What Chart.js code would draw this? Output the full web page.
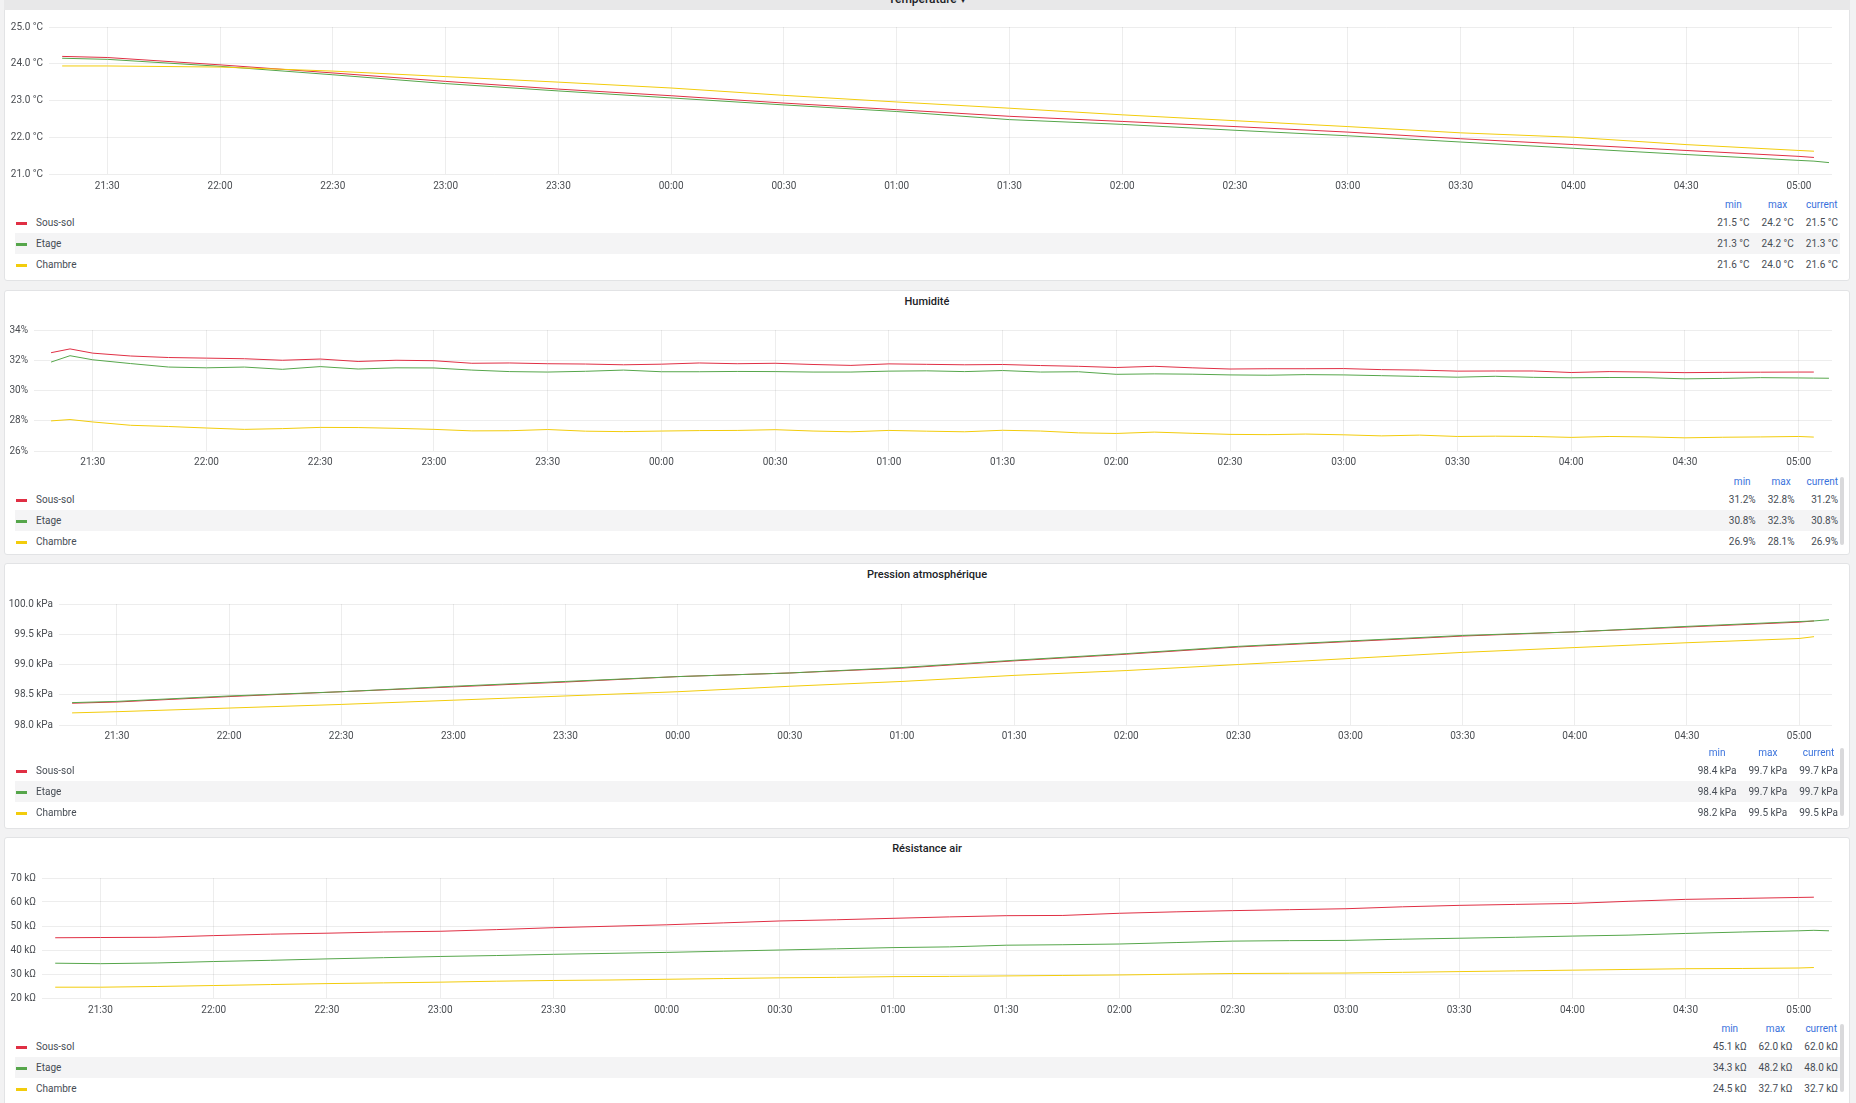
<!DOCTYPE html>
<html lang="fr">
<head>
<meta charset="utf-8">
<title>Capteurs</title>
<script src="https://cdn.jsdelivr.net/npm/chart.js@4.4.0/dist/chart.umd.min.js"></script>
<style>
    html, body { margin: 0; padding: 0; }
    body {
        width: 1856px; height: 1103px; overflow: hidden; position: relative;
        background: #f2f2f3; font-family: Roboto, "Noto Sans", sans-serif; color: #464c54;
    }
    .panel {
        position: absolute; left: 4px; width: 1846px; background: #fff;
        border: 1px solid #e2e3e5; border-radius: 3px; box-sizing: border-box;
    }
    .panel-head {
        position: absolute; left: 4px; width: 1846px; top: -20px; height: 30px;
        background: #e8e8e9; border-radius: 3px 3px 0 0;
    }
    .title {
        position: absolute; left: 4px; width: 1846px; text-align: center;
        font-size: 11px; line-height: 14px; font-weight: 500; color: #202226;
    }
    canvas { position: absolute; left: 0; }
    table.legend {
        position: absolute; left: 15px; width: 1825px; border-collapse: collapse;
        font-size: 10px; color: #464c54;
    }
    table.legend th {
        height: 16px; padding: 0 0 0 12px; text-align: center; font-weight: 400;
        color: #3871dc; white-space: nowrap;
    }
    table.legend td { height: 21px; padding: 0 0 0 12px; text-align: right; white-space: nowrap; }
    table.legend td.name { text-align: left; padding-left: 1px; width: 100%; }
    table.legend tr.alt td { background: #f4f4f5; }
    table.legend td:last-child, table.legend th:last-child { padding-right: 2px; }
    .swatch { display: inline-block; width: 11px; height: 3px; margin-right: 9px; vertical-align: middle; }
    .scroll { position: absolute; left: 1840px; width: 4px; background: #d9d9db; border-radius: 2px; }
</style>
</head>
<body>

<div class="panel" style="top:-20px;height:301px;"></div>
<div class="panel-head"></div>
<div class="title" style="top:-8px;font-size:12px;">Température ▾</div>
<canvas id="tempChart" width="1845" height="180" style="top:15px;"></canvas>
<table class="legend" id="tempLegend" style="top:196px;"></table>

<div class="panel" style="top:290px;height:265px;"></div>
<div class="title" style="top:295px;">Humidité</div>
<canvas id="humChart" width="1845" height="153" style="top:318px;"></canvas>
<table class="legend" id="humLegend" style="top:473px;"></table>
<div class="scroll" style="top:477px;height:68px;"></div>

<div class="panel" style="top:563px;height:266px;"></div>
<div class="title" style="top:568px;">Pression atmosphérique</div>
<canvas id="presChart" width="1845" height="153" style="top:592px;"></canvas>
<table class="legend" id="presLegend" style="top:744px;"></table>
<div class="scroll" style="top:748px;height:68px;"></div>

<div class="panel" style="top:837px;height:270px;"></div>
<div class="title" style="top:842px;">Résistance air</div>
<canvas id="resChart" width="1845" height="153" style="top:866px;"></canvas>
<table class="legend" id="resLegend" style="top:1020px;"></table>
<div class="scroll" style="top:1024px;height:68px;"></div>

<script>
// Time axis: minutes after 21:00
const X_MIN = 14.5;
const X_MAX = 488.8;
const timeTicks = [30, 60, 90, 120, 150, 180, 210, 240, 270, 300, 330, 360, 390, 420, 450, 480];
const timeLabels = ['21:30', '22:00', '22:30', '23:00', '23:30', '00:00', '00:30', '01:00',
                    '01:30', '02:00', '02:30', '03:00', '03:30', '04:00', '04:30', '05:00'];

const seriesNames = ['Sous-sol', 'Etage', 'Chambre'];
const seriesColors = ['#e02f44', '#56a64b', '#f2cc0c'];
const statHeaders = ['min', 'max', 'current'];

// Température
const tempTimes = [18, 30, 60, 90, 120, 150, 180, 210, 240, 270, 300, 330, 360, 390, 420, 450, 480, 484, 488];
const tempSousSol = [24.20, 24.17, 23.97, 23.75, 23.52, 23.31, 23.13, 22.93, 22.75, 22.57, 22.43, 22.29, 22.14, 21.96, 21.80, 21.64, 21.48, 21.45, null];
const tempEtage = [24.15, 24.12, 23.93, 23.70, 23.46, 23.26, 23.07, 22.88, 22.70, 22.48, 22.35, 22.19, 22.04, 21.87, 21.70, 21.53, 21.37, 21.35, 21.31];
const tempChambre = [23.94, 23.94, 23.91, 23.80, 23.65, 23.50, 23.34, 23.14, 22.96, 22.79, 22.61, 22.45, 22.29, 22.12, 22.00, 21.80, 21.64, 21.62, null];
const tempTicks = [21, 22, 23, 24, 25];
const tempStats = [['21.5 °C', '24.2 °C', '21.5 °C'], ['21.3 °C', '24.2 °C', '21.3 °C'], ['21.6 °C', '24.0 °C', '21.6 °C']];

// Humidité
const humTimes = [19, 24, 30, 40, 50, 60, 70, 80, 90, 100, 110, 120, 130, 140, 150, 160, 170, 180, 190, 200,
                  210, 220, 230, 240, 250, 260, 270, 280, 290, 300, 310, 320, 330, 340, 350, 360, 370, 380,
                  390, 400, 410, 420, 430, 440, 450, 460, 470, 480, 484, 488];
const humSousSol = [32.50, 32.75, 32.47, 32.28, 32.18, 32.14, 32.10, 32.00, 32.08, 31.92, 32.00, 31.97, 31.80, 31.82,
                    31.77, 31.75, 31.70, 31.74, 31.82, 31.77, 31.80, 31.72, 31.66, 31.76, 31.73, 31.70, 31.72, 31.65,
                    31.60, 31.52, 31.60, 31.50, 31.42, 31.44, 31.44, 31.45, 31.38, 31.35, 31.28, 31.29, 31.29, 31.19,
                    31.25, 31.22, 31.18, 31.20, 31.21, 31.22, 31.22, null];
const humEtage = [31.88, 32.30, 32.03, 31.78, 31.55, 31.50, 31.55, 31.40, 31.58, 31.42, 31.50, 31.49, 31.35, 31.25,
                  31.22, 31.27, 31.35, 31.24, 31.24, 31.26, 31.25, 31.22, 31.22, 31.28, 31.30, 31.25, 31.32, 31.22,
                  31.24, 31.07, 31.10, 31.08, 31.03, 31.01, 31.05, 31.03, 30.98, 30.93, 30.88, 30.94, 30.87, 30.84,
                  30.86, 30.85, 30.77, 30.80, 30.85, 30.83, 30.82, 30.81];
const humChambre = [27.99, 28.08, 27.92, 27.70, 27.62, 27.52, 27.43, 27.48, 27.56, 27.55, 27.50, 27.43, 27.33, 27.34,
                    27.42, 27.31, 27.28, 27.32, 27.35, 27.36, 27.41, 27.32, 27.27, 27.36, 27.31, 27.27, 27.37, 27.32,
                    27.20, 27.16, 27.25, 27.17, 27.10, 27.08, 27.12, 27.07, 27.00, 27.05, 26.96, 26.98, 26.96, 26.90,
                    26.96, 26.93, 26.87, 26.91, 26.93, 26.96, 26.92, null];
const humTicks = [26, 28, 30, 32, 34];
const humStats = [['31.2%', '32.8%', '31.2%'], ['30.8%', '32.3%', '30.8%'], ['26.9%', '28.1%', '26.9%']];

// Pression atmosphérique
const presTimes = [18, 30, 60, 90, 120, 150, 180, 210, 240, 270, 300, 330, 360, 390, 420, 450, 480, 484, 488];
const presSousSol = [98.36, 98.38, 98.47, 98.55, 98.63, 98.71, 98.80, 98.86, 98.94, 99.06, 99.17, 99.29, 99.38, 99.47, 99.54, 99.62, 99.70, 99.72, null];
const presEtage = [98.37, 98.39, 98.48, 98.55, 98.64, 98.72, 98.80, 98.86, 98.95, 99.07, 99.18, 99.30, 99.39, 99.48, 99.54, 99.63, 99.71, 99.72, 99.74];
const presChambre = [98.20, 98.22, 98.28, 98.34, 98.41, 98.48, 98.55, 98.64, 98.72, 98.82, 98.90, 99.00, 99.10, 99.20, 99.28, 99.36, 99.43, 99.46, null];
const presTicks = [98, 98.5, 99, 99.5, 100];
const presStats = [['98.4 kPa', '99.7 kPa', '99.7 kPa'], ['98.4 kPa', '99.7 kPa', '99.7 kPa'], ['98.2 kPa', '99.5 kPa', '99.5 kPa']];

// Résistance air
const resTimes = [18, 30, 45, 60, 75, 90, 105, 120, 135, 150, 165, 180, 195, 210, 225, 240, 255, 270,
                  285, 300, 315, 330, 345, 360, 375, 390, 405, 420, 435, 450, 465, 480, 484, 488];
const resSousSol = [45.1, 45.2, 45.3, 46.0, 46.6, 47.0, 47.5, 47.8, 48.5, 49.3, 49.9, 50.5, 51.3, 52.1, 52.6, 53.2, 53.8, 54.3,
                    54.4, 55.3, 55.9, 56.4, 56.8, 57.2, 58.0, 58.6, 59.0, 59.4, 60.3, 61.1, 61.5, 61.9, 62.0, null];
const resEtage = [34.5, 34.3, 34.6, 35.2, 35.7, 36.3, 36.8, 37.3, 37.7, 38.2, 38.6, 39.0, 39.5, 40.0, 40.5, 41.0, 41.3, 42.0,
                  42.2, 42.5, 43.1, 43.7, 43.9, 44.0, 44.5, 44.9, 45.3, 45.8, 46.2, 46.9, 47.5, 48.0, 48.2, 48.0];
const resChambre = [24.5, 24.5, 24.8, 25.2, 25.6, 26.0, 26.3, 26.6, 27.0, 27.3, 27.5, 27.8, 28.1, 28.4, 28.6, 28.9, 29.0, 29.2,
                    29.4, 29.6, 29.9, 30.2, 30.3, 30.4, 30.7, 31.0, 31.3, 31.6, 31.9, 32.2, 32.3, 32.5, 32.7, null];
const resTicks = [20, 30, 40, 50, 60, 70];
const resStats = [['45.1 kΩ', '62.0 kΩ', '62.0 kΩ'], ['34.3 kΩ', '48.2 kΩ', '48.0 kΩ'], ['24.5 kΩ', '32.7 kΩ', '32.7 kΩ']];

document.addEventListener('DOMContentLoaded', function() {
    buildChart('tempChart', tempTimes, [tempSousSol, tempEtage, tempChambre], tempTicks,
        v => v.toFixed(1) + ' °C', { padTop: 10, padRight: 13, yWidth: 49, xHeight: 21, tickPad: 6 });
    buildChart('humChart', humTimes, [humSousSol, humEtage, humChambre], humTicks,
        v => v + '%', { padTop: 11, padRight: 13, yWidth: 34, xHeight: 20, tickPad: 5 });
    buildChart('presChart', presTimes, [presSousSol, presEtage, presChambre], presTicks,
        v => v.toFixed(1) + ' kPa', { padTop: 10, padRight: 13, yWidth: 59, xHeight: 20, tickPad: 5 });
    buildChart('resChart', resTimes, [resSousSol, resEtage, resChambre], resTicks,
        v => v + ' kΩ', { padTop: 10, padRight: 13, yWidth: 42, xHeight: 21, tickPad: 6 });

    buildLegend('tempLegend', tempStats);
    buildLegend('humLegend', humStats);
    buildLegend('presLegend', presStats);
    buildLegend('resLegend', resStats);
});

// One Grafana-like time series panel
function buildChart(canvasId, times, values, yTicks, yFormat, box) {
    const ctx = document.getElementById(canvasId).getContext('2d');
    const gridColor = 'rgba(0, 0, 0, 0.07)';
    const tickFont = { family: 'Roboto', size: 10 };

    new Chart(ctx, {
        type: 'line',
        data: {
            datasets: values.map((vals, i) => ({
                label: seriesNames[i],
                data: times.map((t, j) => ({ x: t, y: vals[j] })),
                borderColor: seriesColors[i],
                borderWidth: 1,
                pointRadius: 0,
                tension: 0,
                spanGaps: false,
                order: 3 - i
            }))
        },
        options: {
            responsive: false,
            animation: false,
            events: [],
            layout: { padding: { top: box.padTop, right: box.padRight, left: 0, bottom: 0 } },
            plugins: { legend: { display: false }, tooltip: { enabled: false } },
            scales: {
                x: {
                    type: 'linear',
                    min: X_MIN,
                    max: X_MAX,
                    border: { display: false },
                    grid: { color: gridColor, drawTicks: false },
                    afterBuildTicks: s => { s.ticks = timeTicks.map(v => ({ value: v })); },
                    afterFit: s => { s.height = box.xHeight; },
                    ticks: {
                        autoSkip: false,
                        maxRotation: 0,
                        padding: box.tickPad,
                        color: '#4a4d52',
                        font: tickFont,
                        callback: (v, i) => timeLabels[i]
                    }
                },
                y: {
                    min: yTicks[0],
                    max: yTicks[yTicks.length - 1],
                    border: { display: false },
                    grid: { color: gridColor, drawTicks: false },
                    afterBuildTicks: s => { s.ticks = yTicks.map(v => ({ value: v })); },
                    afterFit: s => { s.width = box.yWidth; },
                    ticks: {
                        padding: 6,
                        color: '#4a4d52',
                        font: tickFont,
                        callback: v => yFormat(v)
                    }
                }
            }
        }
    });
}

// Legend table with min / max / current
function buildLegend(tableId, stats) {
    const table = document.getElementById(tableId);
    let html = '<tr><th></th>' + statHeaders.map(h => '<th>' + h + '</th>').join('') + '</tr>';
    seriesNames.forEach((name, i) => {
        html += '<tr' + (i === 1 ? ' class="alt"' : '') + '>' +
            '<td class="name"><span class="swatch" style="background:' + seriesColors[i] + '"></span>' + name + '</td>' +
            stats[i].map(v => '<td>' + v + '</td>').join('') + '</tr>';
    });
    table.innerHTML = html;
}
</script>
</body>
</html>
